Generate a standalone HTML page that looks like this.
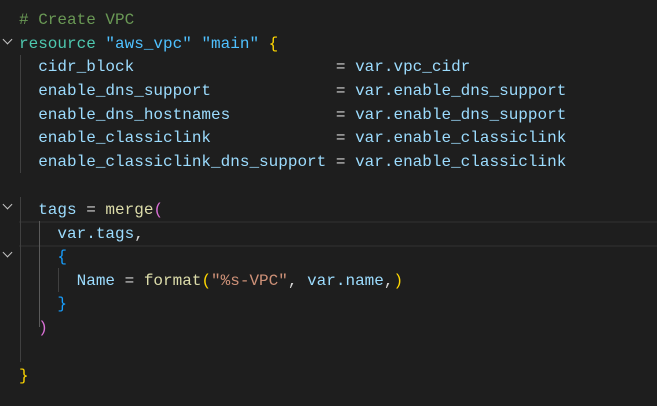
<!DOCTYPE html>
<html><head><style>
html,body{margin:0;padding:0;background:#1e1e1e;width:657px;height:406px;overflow:hidden}
.l{position:absolute;left:19px;height:23.7px;line-height:23.7px;white-space:pre;font-family:"Liberation Mono",monospace;font-size:16px;color:#d4d4d4}
.c{color:#6a9955}.k{color:#4ec9b0}.s{color:#4fc1ff}.a{color:#9cdcfe}.f{color:#dcdcaa}.y{color:#ffd700}.p{color:#da70d6}.b{color:#179fff}.st{color:#ce9178}
.g{position:absolute;width:1px;background:#404040}
.chev{position:absolute;left:4px;width:6px;height:6px;border-right:1.5px solid #c5c5c5;border-bottom:1.5px solid #c5c5c5;transform:rotate(45deg)}
</style></head><body>
<div style="position:absolute;left:19px;right:0;top:221px;height:22px;border-top:2px solid #282828;border-bottom:2px solid #282828"></div>
<div class="g" style="left:20px;top:55px;height:118px"></div>
<div class="g" style="left:20px;top:197px;height:165px"></div>
<div class="g" style="left:39px;top:221px;height:106px;background:#5a5a5a"></div>
<div class="g" style="left:58px;top:268px;height:24px"></div>
<div class="chev" style="top:36px"></div>
<div class="chev" style="top:201px"></div>
<div class="chev" style="top:249px"></div>
<div class="l" style="top:9px"><span class="c"># Create VPC</span></div>
<div class="l" style="top:33px"><span class="k">resource</span> <span class="s">"aws_vpc"</span> <span class="s">"main"</span> <span class="y">{</span></div>
<div class="l" style="top:56px">  <span class="a">cidr_block</span>                     = <span class="a">var.vpc_cidr</span></div>
<div class="l" style="top:80px">  <span class="a">enable_dns_support</span>             = <span class="a">var.enable_dns_support</span></div>
<div class="l" style="top:104px">  <span class="a">enable_dns_hostnames</span>           = <span class="a">var.enable_dns_support</span></div>
<div class="l" style="top:127px">  <span class="a">enable_classiclink</span>             = <span class="a">var.enable_classiclink</span></div>
<div class="l" style="top:151px">  <span class="a">enable_classiclink_dns_support</span> = <span class="a">var.enable_classiclink</span></div>
<div class="l" style="top:199px">  <span class="a">tags</span> = <span class="f">merge</span><span class="p">(</span></div>
<div class="l" style="top:223px">    <span class="a">var.tags</span>,</div>
<div class="l" style="top:246px">    <span class="b">{</span></div>
<div class="l" style="top:270px">      <span class="a">Name</span> = <span class="f">format</span><span class="y">(</span><span class="st">"%s-VPC"</span>, <span class="a">var.name</span>,<span class="y">)</span></div>
<div class="l" style="top:293px">    <span class="b">}</span></div>
<div class="l" style="top:317px">  <span class="p">)</span></div>
<div class="l" style="top:365px"><span class="y">}</span></div>
</body></html>
